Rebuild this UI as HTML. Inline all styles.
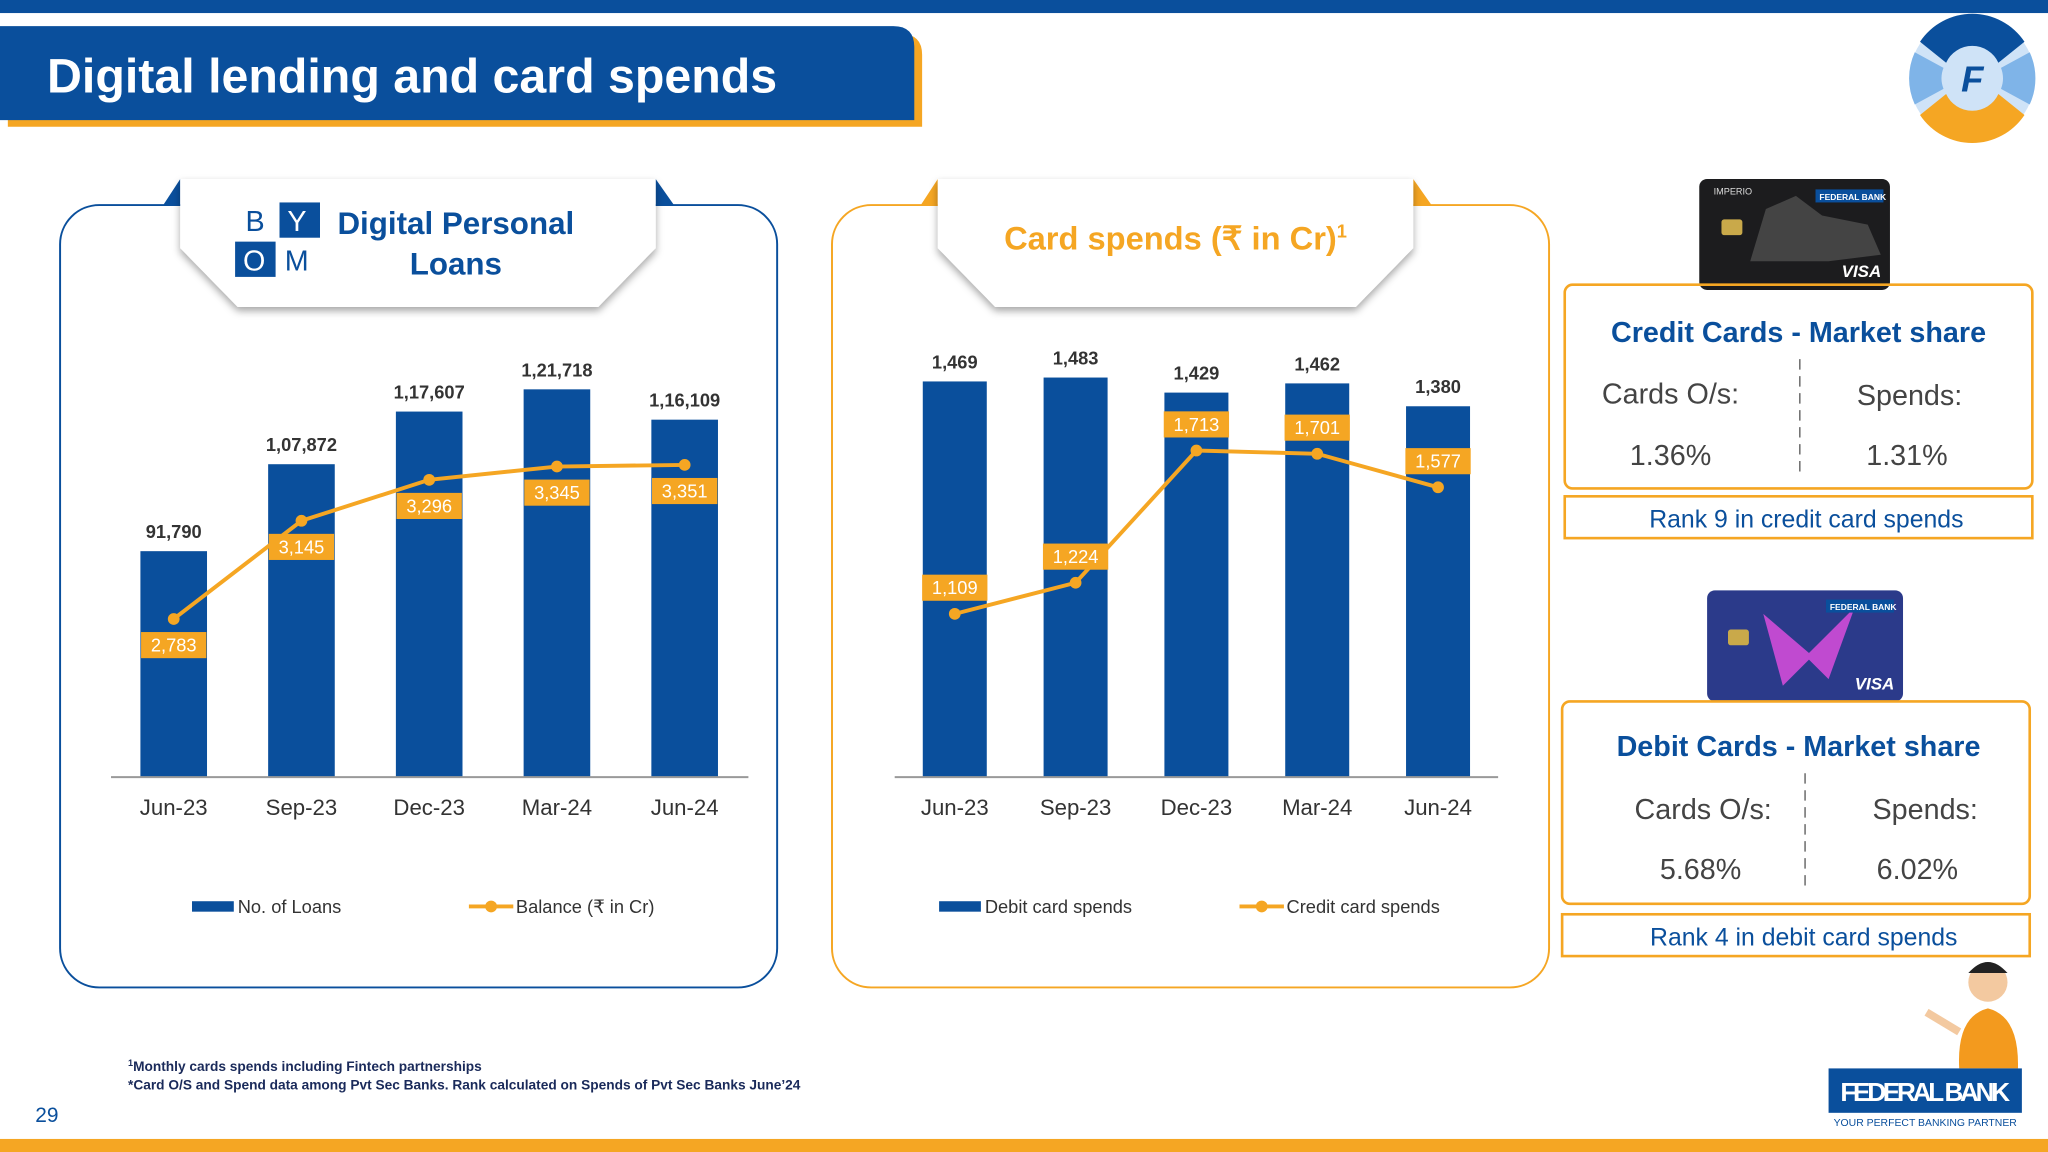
<!DOCTYPE html>
<html><head><meta charset="utf-8">
<style>
html,body{margin:0;padding:0;background:#fff;width:2048px;height:1152px;overflow:hidden}
svg text{font-family:"Liberation Sans",sans-serif}
</style></head>
<body>
<svg id="s" width="2048" height="1152" viewBox="0 0 1568 882" xmlns="http://www.w3.org/2000/svg">
<defs>
<filter id="sh" x="-10%" y="-10%" width="120%" height="130%"><feDropShadow dx="0" dy="3" stdDeviation="3" flood-color="#000" flood-opacity="0.35"/></filter>
</defs>
<rect x="0" y="0" width="1568" height="10" fill="#0a4f9c"/>
<rect x="0" y="872" width="1568" height="10" fill="#f5a623"/>
<g>
<path d="M6 26 H690 Q706 26 706 42 V97 H6 Z" fill="#f5a623"/>
<path d="M0 20 H684 Q700 20 700 36 V92 H0 Z" fill="#0a4f9c"/>
<text x="36" y="71" font-size="37" font-weight="bold" fill="#fff">Digital lending and card spends</text>
</g>
<g>
<circle cx="1510" cy="60" r="48" fill="#cfe3f7"/>
<path d="M1470 32 A48 48 0 0 1 1550 32 L1530 48 A22 22 0 0 0 1490 48 Z" fill="#0a4f9c"/>
<path d="M1470 88 A48 48 0 0 0 1550 88 L1530 72 A22 22 0 0 1 1490 72 Z" fill="#f5a623"/>
<path d="M1466 40 A48 48 0 0 0 1466 80 L1488 68 A22 22 0 0 1 1488 52 Z" fill="#7fb4e8"/>
<path d="M1554 40 A48 48 0 0 1 1554 80 L1532 68 A22 22 0 0 0 1532 52 Z" fill="#7fb4e8"/>
<text x="1510" y="70" font-size="28" font-weight="bold" font-style="italic" fill="#0a4f9c" text-anchor="middle">F</text>
</g>

<!-- Left panel -->
<rect x="46" y="157" width="549" height="599" rx="30" fill="#fff" stroke="#0a4f9c" stroke-width="1.5"/>
<path d="M125 157 L138 137 V157 Z M502 137 L516 157 H502 Z" fill="#0a4f9c"/>
<path d="M138 137 H502 V190 L458 235 H182 L138 190 Z" fill="#fff" filter="url(#sh)"/>
<g font-size="22">
<text x="188" y="177" fill="#0a4f9c">B</text>
<rect x="214" y="155" width="31" height="27" fill="#0a4f9c"/><text x="220" y="177" fill="#fff">Y</text>
<rect x="180" y="185" width="31" height="27" fill="#0a4f9c"/><text x="186" y="207" fill="#fff">O</text>
<text x="218" y="207" fill="#0a4f9c">M</text>
</g>
<text x="349" y="179" font-size="24" font-weight="bold" fill="#0a4f9c" text-anchor="middle">Digital Personal</text>
<text x="349" y="210" font-size="24" font-weight="bold" fill="#0a4f9c" text-anchor="middle">Loans</text>
<g id="c1"></g>

<!-- Middle panel -->
<rect x="637" y="157" width="549" height="599" rx="30" fill="#fff" stroke="#f5a623" stroke-width="1.5"/>
<path d="M705 157 L718 137 V157 Z M1082 137 L1096 157 H1082 Z" fill="#f5a623"/>
<path d="M718 137 H1082 V190 L1038 235 H762 L718 190 Z" fill="#fff" filter="url(#sh)"/>
<text x="900" y="191" font-size="25" font-weight="bold" fill="#f5a623" text-anchor="middle">Card spends (₹ in Cr)<tspan font-size="14" dy="-9">1</tspan></text>
<g id="c2"></g>

<!-- Right side -->
<g>
<rect x="1301" y="137" width="146" height="85" rx="6" fill="#1c1c1e"/>
<path d="M1340 200 L1352 160 L1375 150 L1395 165 L1430 172 L1440 195 L1400 200 Z" fill="#444"/>
<rect x="1318" y="168" width="16" height="12" rx="2" fill="#c9a94a"/>
<text x="1312" y="149" font-size="7" fill="#ddd">IMPERIO</text>
<rect x="1390" y="145" width="52" height="10" fill="#0a4f9c"/><text x="1393" y="153" font-size="6.5" fill="#fff" font-weight="bold">FEDERAL BANK</text>
<text x="1410" y="212" font-size="13" font-weight="bold" font-style="italic" fill="#fff">VISA</text>
</g>
<rect x="1198" y="218" width="358" height="156" rx="6" fill="none" stroke="#f5a623" stroke-width="2"/>
<text x="1377" y="262" font-size="22" font-weight="bold" fill="#0a4f9c" text-anchor="middle">Credit Cards - Market share</text>
<line x1="1378" y1="275" x2="1378" y2="362" stroke="#555" stroke-dasharray="8,5"/>
<text x="1279" y="309" font-size="22" fill="#444" text-anchor="middle">Cards O/s:</text>
<text x="1462" y="310" font-size="22" fill="#444" text-anchor="middle">Spends:</text>
<text x="1279" y="356" font-size="22" fill="#444" text-anchor="middle">1.36%</text>
<text x="1460" y="356" font-size="22" fill="#444" text-anchor="middle">1.31%</text>
<rect x="1198" y="380" width="358" height="32" fill="none" stroke="#f5a623" stroke-width="2"/>
<text x="1383" y="404" font-size="19" fill="#0a4f9c" text-anchor="middle">Rank 9 in credit card spends</text>

<g>
<rect x="1307" y="452" width="150" height="85" rx="6" fill="#2b3a8a"/>
<path d="M1350 470 L1385 500 L1420 465 L1400 520 L1385 505 L1365 525 Z" fill="#c04ad0"/>
<rect x="1323" y="482" width="16" height="12" rx="2" fill="#c9a94a"/>
<rect x="1398" y="459" width="52" height="10" fill="#0a4f9c"/><text x="1401" y="467" font-size="6.5" fill="#fff" font-weight="bold">FEDERAL BANK</text>
<text x="1420" y="528" font-size="13" font-weight="bold" font-style="italic" fill="#fff">VISA</text>
</g>
<rect x="1196" y="537" width="358" height="155" rx="6" fill="none" stroke="#f5a623" stroke-width="2"/>
<text x="1377" y="579" font-size="22" font-weight="bold" fill="#0a4f9c" text-anchor="middle">Debit Cards - Market share</text>
<line x1="1382" y1="592" x2="1382" y2="682" stroke="#555" stroke-dasharray="8,5"/>
<text x="1304" y="627" font-size="22" fill="#444" text-anchor="middle">Cards O/s:</text>
<text x="1474" y="627" font-size="22" fill="#444" text-anchor="middle">Spends:</text>
<text x="1302" y="673" font-size="22" fill="#444" text-anchor="middle">5.68%</text>
<text x="1468" y="673" font-size="22" fill="#444" text-anchor="middle">6.02%</text>
<rect x="1196" y="700" width="358" height="32" fill="none" stroke="#f5a623" stroke-width="2"/>
<text x="1381" y="724" font-size="19" fill="#0a4f9c" text-anchor="middle">Rank 4 in debit card spends</text>

<g>
<circle cx="1522" cy="752" r="15" fill="#f3c9a0"/>
<path d="M1507 745 Q1522 728 1537 745 Z" fill="#222"/>
<path d="M1500 818 Q1498 778 1522 772 Q1546 778 1545 818 Z" fill="#f39a1e"/>
<path d="M1500 790 L1475 775" stroke="#f3c9a0" stroke-width="6"/>
</g>
<g>
<rect x="1400" y="818" width="148" height="34" fill="#0a4f9c"/>
<text x="1474" y="843" font-size="20" font-weight="bold" fill="#fff" text-anchor="middle" textLength="130">FEDERAL BANK</text>
<text x="1474" y="862" font-size="8" fill="#0a4f9c" text-anchor="middle">YOUR PERFECT BANKING PARTNER</text>
</g>
<text x="98" y="820" font-size="10.5" font-weight="bold" fill="#1a2a5a"><tspan font-size="7" dy="-4">1</tspan><tspan dy="4">Monthly cards spends including Fintech partnerships</tspan></text>
<text x="98" y="834" font-size="10.5" font-weight="bold" fill="#1a2a5a">*Card O/S and Spend data among Pvt Sec Banks. Rank calculated on Spends of Pvt Sec Banks June’24</text>
<text x="27" y="859" font-size="16" fill="#0a4f9c">29</text>
</svg>
<script>
const NS='http://www.w3.org/2000/svg';
const categories=['Jun-23','Sep-23','Dec-23','Mar-24','Jun-24'];
const loanCounts=[91790,107872,117607,121718,116109];
const loanCountLabels=['91,790','1,07,872','1,17,607','1,21,718','1,16,109'];
const loanBalance=[2783,3145,3296,3345,3351];
const loanBalanceLabels=['2,783','3,145','3,296','3,345','3,351'];
const debitSpends=[1469,1483,1429,1462,1380];
const debitLabels=['1,469','1,483','1,429','1,462','1,380'];
const creditSpends=[1109,1224,1713,1701,1577];
const creditLabels=['1,109','1,224','1,713','1,701','1,577'];

function mk(p,tag,a,txt){const e=document.createElementNS(NS,tag);for(const k in a)e.setAttribute(k,a[k]);if(txt!=null)e.textContent=txt;p.appendChild(e);return e;}

function chart(g,o){
  const base=595;
  const xs=i=>o.x0+i*o.step;
  const yb=v=>base-(v-o.bMin)*o.bScale;
  const yl=v=>base-(v-o.lMin)*o.lScale;
  categories.forEach((c,i)=>{
    const r=mk(g,'rect',{x:xs(i)-o.bw/2,y:yb(o.bars[i]),width:o.bw,height:base-yb(o.bars[i]),fill:'#0a4f9c'});
    
    
    const t=mk(g,'text',{x:xs(i),y:yb(o.bars[i])-10,'font-size':14,'font-weight':'bold',fill:'#333','text-anchor':'middle'},o.barLabels[i]);
    
    
    const xl=mk(g,'text',{x:xs(i),y:624,'font-size':17,fill:'#333','text-anchor':'middle'},c);
    
    
  });
  const ax=mk(g,'line',{x1:o.ax1,x2:o.ax2,y1:base,y2:base,stroke:'#999','stroke-width':1.5});
  
  
  const pts=o.line.map((v,i)=>xs(i)+','+yl(v)).join(' ');
  const pl=mk(g,'polyline',{points:pts,fill:'none',stroke:'#f5a623','stroke-width':3});
  
  
  o.line.forEach((v,i)=>{
    const d=mk(g,'circle',{cx:xs(i),cy:yl(v),r:4.5,fill:'#f5a623'});
    
    
    const cy=yl(v)+o.lblOff;
    const b=mk(g,'rect',{x:xs(i)-25,y:cy-10,width:50,height:20,fill:'#f5a623'});
    
    
    const t=mk(g,'text',{x:xs(i),y:cy+5,'font-size':14,fill:'#fff','text-anchor':'middle'},o.lineLabels[i]);
    
    
  });
  const lb=mk(g,'rect',{x:o.lg1,y:690,width:32,height:8,fill:'#0a4f9c'});
  
  
  const lt=mk(g,'text',{x:o.lg1+35,y:699,'font-size':14,fill:'#333'},o.leg1);
  
  
  const ll=mk(g,'line',{x1:o.lg2,x2:o.lg2+34,y1:694,y2:694,stroke:'#f5a623','stroke-width':3});
  
  
  mk(g,'circle',{cx:o.lg2+17,cy:694,r:4.5,fill:'#f5a623'});
  const lt2=mk(g,'text',{x:o.lg2+36,y:699,'font-size':14,fill:'#333'},o.leg2);
  
  
}
chart(document.getElementById('c1'),{x0:133,step:97.8,bw:51,bars:loanCounts,barLabels:loanCountLabels,bMin:50000,bScale:0.00414,line:loanBalance,lineLabels:loanBalanceLabels,lMin:2200,lScale:0.2077,lblOff:20,ax1:85,ax2:573,lg1:147,lg2:359,leg1:'No. of Loans',leg2:'Balance (₹ in Cr)'});
chart(document.getElementById('c2'),{x0:731,step:92.5,bw:49,bars:debitSpends,barLabels:debitLabels,bMin:50,bScale:0.2135,line:creditSpends,lineLabels:creditLabels,lMin:505,lScale:0.207,lblOff:-20,ax1:685,ax2:1147,lg1:719,lg2:949,leg1:'Debit card spends',leg2:'Credit card spends'});
</script>
</body></html>
